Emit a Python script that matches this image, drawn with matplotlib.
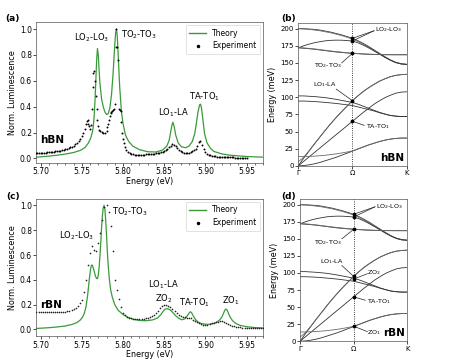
import matplotlib
matplotlib.use("Agg")
import matplotlib.pyplot as plt
from matplotlib.ticker import MultipleLocator
from matplotlib.lines import Line2D

GREEN = "#3a9a3a"

# ---- (a) hBN luminescence ----
theory_a_energy = [5.695, 5.71, 5.72, 5.73, 5.74, 5.748, 5.754, 5.758, 5.761, 5.763,
                   5.764, 5.765, 5.766, 5.767, 5.768, 5.769, 5.770, 5.771, 5.772, 5.774,
                   5.776, 5.778, 5.780, 5.782, 5.784, 5.786, 5.788, 5.790, 5.791, 5.792,
                   5.793, 5.794, 5.796, 5.798, 5.800, 5.803, 5.807, 5.812, 5.82, 5.83,
                   5.84, 5.848, 5.853, 5.856, 5.858, 5.8595, 5.8605, 5.862, 5.864, 5.867,
                   5.871, 5.876, 5.880, 5.884, 5.887, 5.889, 5.891, 5.893, 5.894, 5.895,
                   5.897, 5.899, 5.902, 5.906, 5.910, 5.92, 5.93, 5.95, 5.97]
theory_a_lum = [0.010, 0.018, 0.025, 0.034, 0.046, 0.062, 0.085, 0.12, 0.16, 0.21,
                0.25, 0.33, 0.45, 0.60, 0.76, 0.85, 0.80, 0.68, 0.58, 0.46,
                0.40, 0.36, 0.34, 0.345, 0.39, 0.49, 0.66, 0.88, 0.97, 1.0,
                0.95, 0.82, 0.55, 0.37, 0.27, 0.18, 0.13, 0.095, 0.068, 0.052,
                0.05, 0.065, 0.093, 0.14, 0.21, 0.26, 0.28, 0.25, 0.18, 0.12,
                0.09, 0.083, 0.095, 0.13, 0.19, 0.27, 0.36, 0.415, 0.42, 0.40,
                0.30, 0.19, 0.12, 0.08, 0.055, 0.035, 0.025, 0.015, 0.01]

exp_a_energy = [5.694, 5.696, 5.698, 5.700, 5.702, 5.704, 5.706, 5.708, 5.710, 5.712,
                5.714, 5.716, 5.718, 5.720, 5.722, 5.724, 5.726, 5.728, 5.730, 5.732,
                5.734, 5.736, 5.738, 5.740, 5.742, 5.744, 5.746, 5.748, 5.750, 5.752,
                5.754, 5.755, 5.756, 5.757, 5.758, 5.759, 5.760, 5.761, 5.762, 5.763,
                5.764, 5.765, 5.766, 5.767, 5.768, 5.769, 5.770, 5.771, 5.772, 5.774,
                5.776, 5.778, 5.780, 5.781, 5.782, 5.783, 5.784, 5.785, 5.786, 5.787,
                5.788, 5.789, 5.790, 5.791, 5.792, 5.793, 5.794, 5.795, 5.796, 5.797,
                5.798, 5.799, 5.800, 5.801, 5.802, 5.804, 5.806, 5.808, 5.810, 5.812,
                5.814, 5.816, 5.818, 5.820, 5.822, 5.824, 5.826, 5.828, 5.830, 5.832,
                5.834, 5.836, 5.838, 5.840, 5.842, 5.844, 5.846, 5.848, 5.850, 5.852,
                5.854, 5.856, 5.858, 5.860, 5.862, 5.864, 5.866, 5.868, 5.870, 5.872,
                5.874, 5.876, 5.878, 5.880, 5.882, 5.884, 5.886, 5.888, 5.890, 5.892,
                5.894, 5.896, 5.898, 5.900, 5.902, 5.904, 5.906, 5.908, 5.910, 5.912,
                5.914, 5.916, 5.918, 5.920, 5.922, 5.924, 5.926, 5.928, 5.930, 5.932,
                5.934, 5.936, 5.938, 5.940, 5.942, 5.944, 5.946, 5.948, 5.950]
exp_a_lum = [0.040, 0.041, 0.042, 0.043, 0.044, 0.045, 0.046, 0.047, 0.048, 0.049,
             0.050, 0.052, 0.054, 0.056, 0.058, 0.060, 0.063, 0.066, 0.070, 0.074,
             0.079, 0.085, 0.092, 0.100, 0.110, 0.122, 0.136, 0.150, 0.170, 0.195,
             0.230, 0.265, 0.290, 0.300, 0.270, 0.250, 0.230, 0.260, 0.380, 0.550,
             0.660, 0.680, 0.600, 0.480, 0.380, 0.300, 0.250, 0.220, 0.210, 0.205,
             0.200, 0.200, 0.215, 0.240, 0.270, 0.300, 0.330, 0.350, 0.360, 0.370,
             0.375, 0.380, 0.420, 0.860, 1.000, 0.860, 0.760, 0.380, 0.375, 0.370,
             0.280, 0.200, 0.150, 0.120, 0.090, 0.065, 0.050, 0.040, 0.035, 0.032,
             0.030, 0.029, 0.028, 0.028, 0.028, 0.029, 0.030, 0.031, 0.032, 0.033,
             0.034, 0.036, 0.038, 0.040, 0.042, 0.045, 0.048, 0.052, 0.058, 0.066,
             0.076, 0.088, 0.100, 0.108, 0.105, 0.095, 0.082, 0.068, 0.058, 0.050,
             0.045, 0.042, 0.042, 0.045, 0.050, 0.056, 0.064, 0.076, 0.095, 0.125,
             0.135, 0.105, 0.075, 0.052, 0.038, 0.030, 0.024, 0.020, 0.017, 0.016,
             0.015, 0.014, 0.013, 0.012, 0.011, 0.010, 0.010, 0.009, 0.009, 0.008,
             0.008, 0.007, 0.007, 0.006, 0.006, 0.006, 0.005, 0.005, 0.005]

# ---- (c) rBN luminescence ----
theory_c_energy = [5.695, 5.71, 5.72, 5.73, 5.738, 5.744, 5.748, 5.751, 5.753, 5.755,
                   5.757, 5.759, 5.7605, 5.7615, 5.7625, 5.7635, 5.765, 5.7665, 5.768, 5.769,
                   5.770, 5.771, 5.772, 5.773, 5.774, 5.775, 5.776, 5.777, 5.778, 5.779,
                   5.780, 5.781, 5.782, 5.7835, 5.785, 5.787, 5.790, 5.794, 5.800, 5.806,
                   5.812, 5.820, 5.828, 5.836, 5.842, 5.846, 5.849, 5.851, 5.853, 5.855,
                   5.857, 5.860, 5.864, 5.868, 5.8715, 5.875, 5.878, 5.880, 5.8815, 5.883,
                   5.885, 5.888, 5.891, 5.895, 5.900, 5.905, 5.910, 5.914, 5.917, 5.920,
                   5.922, 5.9235, 5.925, 5.9265, 5.928, 5.930, 5.933, 5.937, 5.942, 5.950,
                   5.960, 5.970]
theory_c_lum = [0.008, 0.014, 0.020, 0.028, 0.040, 0.055, 0.075, 0.10, 0.13, 0.18,
                0.27, 0.40, 0.48, 0.515, 0.52, 0.505, 0.47, 0.43, 0.41, 0.41,
                0.44, 0.50, 0.59, 0.70, 0.82, 0.92, 0.98, 1.0, 0.97, 0.88,
                0.76, 0.63, 0.52, 0.40, 0.32, 0.26, 0.20, 0.155, 0.12, 0.098,
                0.083, 0.072, 0.070, 0.077, 0.093, 0.12, 0.15, 0.163, 0.167, 0.165,
                0.158, 0.14, 0.11, 0.088, 0.078, 0.085, 0.11, 0.13, 0.142, 0.138,
                0.112, 0.08, 0.06, 0.048, 0.042, 0.042, 0.048, 0.060, 0.075, 0.10,
                0.13, 0.155, 0.165, 0.155, 0.13, 0.10, 0.07, 0.048, 0.033, 0.022,
                0.015, 0.012]

exp_c_energy = [5.6950, 5.6975, 5.7000, 5.7025, 5.7050, 5.7075, 5.7100, 5.7125, 5.7150, 5.7175,
                5.7200, 5.7225, 5.7250, 5.7275, 5.7300, 5.7325, 5.7350, 5.7375, 5.7400, 5.7425,
                5.7450, 5.7475, 5.7500, 5.7525, 5.7550, 5.7575, 5.7600, 5.7625, 5.7650, 5.7675,
                5.7700, 5.7725, 5.7750, 5.7775, 5.7800, 5.7825, 5.7850, 5.7875, 5.7900, 5.7925,
                5.7950, 5.7975, 5.8000, 5.8025, 5.8050, 5.8075, 5.8100, 5.8125, 5.8150, 5.8175,
                5.8200, 5.8225, 5.8250, 5.8275, 5.8300, 5.8325, 5.8350, 5.8375, 5.8400, 5.8425,
                5.8450, 5.8475, 5.8500, 5.8525, 5.8550, 5.8575, 5.8600, 5.8625, 5.8650, 5.8675,
                5.8700, 5.8725, 5.8750, 5.8775, 5.8800, 5.8825, 5.8850, 5.8875, 5.8900, 5.8925,
                5.8950, 5.8975, 5.9000, 5.9025, 5.9050, 5.9075, 5.9100, 5.9125, 5.9150, 5.9175,
                5.9200, 5.9225, 5.9250, 5.9275, 5.9300, 5.9325, 5.9350, 5.9375, 5.9400, 5.9425,
                5.9450, 5.9475, 5.9500, 5.9525, 5.9550, 5.9575, 5.9600, 5.9625, 5.9650, 5.9675,
                5.9700]
exp_c_lum = [0.144, 0.143, 0.142, 0.141, 0.140, 0.140, 0.139, 0.139, 0.139, 0.139,
             0.139, 0.139, 0.140, 0.141, 0.143, 0.146, 0.150, 0.155, 0.162, 0.172,
             0.187, 0.210, 0.240, 0.300, 0.400, 0.520, 0.620, 0.670, 0.640, 0.630,
             0.700, 0.780, 0.880, 0.990, 1.000, 0.950, 0.830, 0.630, 0.400, 0.320,
             0.245, 0.180, 0.135, 0.115, 0.103, 0.095, 0.089, 0.086, 0.085, 0.085,
             0.085, 0.086, 0.088, 0.091, 0.095, 0.101, 0.109, 0.120, 0.135, 0.152,
             0.170, 0.188, 0.198, 0.200, 0.192, 0.180, 0.165, 0.148, 0.130, 0.115,
             0.105, 0.100, 0.098, 0.096, 0.094, 0.090, 0.080, 0.068, 0.058, 0.050,
             0.043, 0.038, 0.036, 0.038, 0.042, 0.048, 0.054, 0.059, 0.062, 0.064,
             0.064, 0.060, 0.052, 0.044, 0.036, 0.030, 0.026, 0.022, 0.019, 0.017,
             0.015, 0.014, 0.013, 0.012, 0.011, 0.011, 0.010, 0.010, 0.010, 0.010,
             0.010]

# ---- (b)/(d) phonon dispersion along Gamma - Omega - K ----
path = [0.0, 0.1, 0.2, 0.3, 0.4, 0.5, 0.6, 0.7, 0.8, 0.9, 1.0,
        1.1, 1.2, 1.3, 1.4, 1.5, 1.6, 1.7, 1.8, 1.9, 2.0]
path_ticks = [0.0, 1.0, 2.0]
path_labels = ["Γ", "Ω", "K"]

branches = {
    "LO_a": [200, 200, 199.5, 199, 198, 196.5, 195, 193, 191, 188.5, 186,
             182.5, 178.5, 174, 169, 164, 159, 154.5, 151, 149, 148],
    "LO_b": [200, 199.5, 199, 198, 197, 195.5, 194, 192, 190, 187.5, 185,
             181.5, 177.5, 173, 168, 163, 158, 154, 150.5, 148.5, 148],
    "LOx_a": [172, 175, 177.5, 179.5, 181, 182.3, 183, 183.3, 183.2, 182.7, 182,
              179.5, 176, 172, 167.5, 163, 158.5, 154, 150.5, 148.5, 148],
    "TO_a": [172, 171.5, 170.8, 170, 169, 168, 167, 166, 165.3, 164.6, 164,
             163.5, 163, 162.7, 162.4, 162.2, 162, 162, 162, 162, 162],
    "TO_b": [172.5, 172, 171.3, 170.5, 169.5, 168.5, 167.5, 166.6, 165.8, 165, 164.4,
             163.8, 163.3, 162.9, 162.6, 162.4, 162.2, 162.1, 162, 162, 162],
    "D_a": [102, 102, 101.5, 101, 100.3, 99.5, 98.3, 97, 95.5, 94, 92.5,
            90, 87, 84, 81, 78, 75.5, 73.5, 72.5, 72, 72],
    "D_b": [94.5, 94.5, 94.2, 93.8, 93.2, 92.5, 91.8, 91, 90, 89, 88,
            86, 84, 82, 80, 77.5, 75.5, 73.5, 72.5, 72, 72],
    "LA_a": [0, 11, 21.5, 32, 42, 52, 61.5, 70.5, 79, 87, 95,
             102, 108.5, 114, 119, 123.5, 127, 130, 132, 133, 133.5],
    "LA_b": [6, 12.5, 22, 32, 42, 52, 61.5, 70.5, 79, 87, 95,
             102, 108.5, 114, 119, 123.5, 127, 130, 132, 133, 133.5],
    "TA_a": [0, 6.5, 13, 19.5, 26, 32.5, 39, 45.5, 52, 58.5, 65,
             71.5, 78, 84, 90, 95, 99.5, 103, 106, 107.5, 108],
    "ZA_a": [0, 0.5, 1.5, 3, 5, 7.5, 10, 12.5, 15.5, 18.5, 21.5,
             24.5, 27.5, 30.5, 33, 35.5, 37.5, 39, 40, 40.5, 40.5],
    "ZA_b": [13.5, 13.6, 13.8, 14.2, 14.8, 15.5, 16.5, 17.5, 18.8, 20.2, 21.8,
             24.8, 27.8, 30.7, 33.2, 35.6, 37.6, 39.1, 40.1, 40.6, 40.6],
}
secondary = {"LO_b", "TO_b", "LA_b", "ZA_b"}

omega_dots_b = [186, 182, 164, 95, 65]
omega_dots_d = [186, 182, 164, 95, 91, 65, 22]


def style_spectrum(ax, ylim):
    ax.set_xlim(5.695, 5.97)
    ax.set_ylim(*ylim)
    ax.set_xticks([5.70, 5.75, 5.80, 5.85, 5.90, 5.95])
    ax.set_yticks([0.0, 0.2, 0.4, 0.6, 0.8, 1.0])
    ax.xaxis.set_minor_locator(MultipleLocator(0.01))
    ax.tick_params(labelsize=5.5, length=2, width=0.5, pad=1.2)
    ax.tick_params(which="minor", length=1.2, width=0.4)
    ax.set_xlabel("Energy (eV)", fontsize=5.8, labelpad=0.5)
    ax.set_ylabel("Norm. Luminescence", fontsize=5.8, labelpad=2)
    for sp in ax.spines.values():
        sp.set_linewidth(0.5)
        sp.set_color("#555555")
    handles = [
        Line2D([0], [0], color=GREEN, lw=1.0, label="Theory"),
        Line2D([0], [0], marker="o", color="w", markerfacecolor="black",
               markeredgecolor="black", markersize=1.5, label="Experiment"),
    ]
    leg = ax.legend(handles=handles, loc="upper right", fontsize=5.5,
                    handlelength=2.2, borderaxespad=0.35, borderpad=0.5,
                    labelspacing=0.5, handletextpad=0.8)
    leg.get_frame().set_linewidth(0.5)
    leg.get_frame().set_edgecolor("#cccccc")


def draw_dispersion(ax, dots, notes, tag, ylim_top):
    for name, vals in branches.items():
        col = "#6a6a6a" if name in secondary else "#333333"
        ax.plot(path, vals, color=col, lw=0.6, zorder=2)
    ax.axvline(1.0, color="black", ls=":", lw=0.6, zorder=1)
    ax.scatter([1.0] * len(dots), dots, s=3, color="black", zorder=4)
    for text, (tx, ty), starts, targets in notes:
        ax.text(tx, ty, text, fontsize=4.6, ha="center", va="center", zorder=5)
        for (sx, sy), tgt in zip(starts, targets):
            ax.annotate("", xy=(1.0, tgt), xytext=(sx, sy),
                        arrowprops=dict(arrowstyle="-", lw=0.5, color="#222222",
                                        shrinkA=0, shrinkB=0), zorder=3)
    ax.text(0.98, 0.02, tag, transform=ax.transAxes, ha="right", va="bottom",
            fontsize=7.5, fontweight="bold")
    ax.set_xlim(0, 2)
    ax.set_ylim(0, ylim_top)
    ax.set_xticks(path_ticks)
    ax.set_xticklabels(path_labels)
    ax.set_yticks([0, 25, 50, 75, 100, 125, 150, 175, 200])
    ax.tick_params(labelsize=5, length=2, width=0.5, pad=1.2)
    ax.set_ylabel("Energy (meV)", fontsize=5.8, labelpad=2)
    for sp in ax.spines.values():
        sp.set_linewidth(0.5)
        sp.set_color("#555555")


fig = plt.figure(figsize=(4.74, 3.63), dpi=100)

ax_a = fig.add_axes([0.077, 0.551, 0.478, 0.388])
ax_a.plot(theory_a_energy, theory_a_lum, color=GREEN, lw=0.9, zorder=2)
ax_a.plot(exp_a_energy, exp_a_lum, "o", color="black", ms=1.4, mew=0, zorder=3)
style_spectrum(ax_a, (-0.035, 1.054))
ax_a.text(5.762, 0.93, "LO$_2$-LO$_3$", fontsize=6, ha="center", va="center")
ax_a.text(5.819, 0.96, "TO$_2$-TO$_3$", fontsize=6, ha="center", va="center")
ax_a.text(5.8606, 0.35, "LO$_1$-LA", fontsize=6, ha="center", va="center")
ax_a.text(5.8988, 0.48, "TA-TO$_1$", fontsize=6, ha="center", va="center")
ax_a.text(0.015, 0.165, "hBN", transform=ax_a.transAxes, fontsize=7.5,
          fontweight="bold", ha="left", va="center")

ax_c = fig.add_axes([0.077, 0.074, 0.478, 0.378])
ax_c.plot(theory_c_energy, theory_c_lum, color=GREEN, lw=0.9, zorder=2)
ax_c.plot(exp_c_energy, exp_c_lum, "o", color="#222222", ms=1.2, mew=0, zorder=3)
style_spectrum(ax_c, (-0.054, 1.052))
ax_c.text(5.743, 0.756, "LO$_2$-LO$_3$", fontsize=6, ha="center", va="center")
ax_c.text(5.809, 0.95, "TO$_2$-TO$_3$", fontsize=6, ha="center", va="center")
ax_c.text(5.849, 0.357, "LO$_1$-LA", fontsize=6, ha="center", va="center")
ax_c.text(5.849, 0.25, "ZO$_2$", fontsize=6, ha="center", va="center")
ax_c.text(5.8866, 0.216, "TA-TO$_1$", fontsize=6, ha="center", va="center")
ax_c.text(5.9305, 0.23, "ZO$_1$", fontsize=6, ha="center", va="center")
ax_c.text(0.015, 0.23, "rBN", transform=ax_c.transAxes, fontsize=7.5,
          fontweight="bold", ha="left", va="center")

ax_b = fig.add_axes([0.629, 0.543, 0.229, 0.395])
notes_b = [
    ("LO$_2$-LO$_3$", (1.66, 199), [(1.40, 197), (1.40, 197)], [186, 182]),
    ("TO$_2$-TO$_3$", (0.54, 146), [(0.80, 150)], [164]),
    ("LO$_1$-LA", (0.50, 118), [(0.70, 112)], [95]),
    ("TA-TO$_1$", (1.47, 57), [(1.22, 59)], [65]),
]
draw_dispersion(ax_b, omega_dots_b, notes_b, "hBN", 209)

ax_d = fig.add_axes([0.633, 0.060, 0.226, 0.391])
notes_d = [
    ("LO$_2$-LO$_3$", (1.67, 198), [(1.40, 197), (1.40, 197)], [186, 182]),
    ("TO$_2$-TO$_3$", (0.52, 145), [(0.78, 150)], [164]),
    ("LO$_1$-LA", (0.60, 117), [(0.78, 111)], [95]),
    ("ZO$_2$", (1.38, 101), [(1.26, 99)], [91]),
    ("TA-TO$_1$", (1.47, 58), [(1.22, 60)], [65]),
    ("ZO$_1$", (1.38, 12), [(1.26, 14)], [22]),
]
draw_dispersion(ax_d, omega_dots_d, notes_d, "rBN", 208)

for lbl, x, y in [("(a)", 0.027, 0.948), ("(b)", 0.608, 0.950),
                  ("(c)", 0.027, 0.460), ("(d)", 0.608, 0.460)]:
    fig.text(x, y, lbl, fontsize=6.5, fontweight="bold", ha="center", va="center")

fig.savefig("out.png", dpi=100)
